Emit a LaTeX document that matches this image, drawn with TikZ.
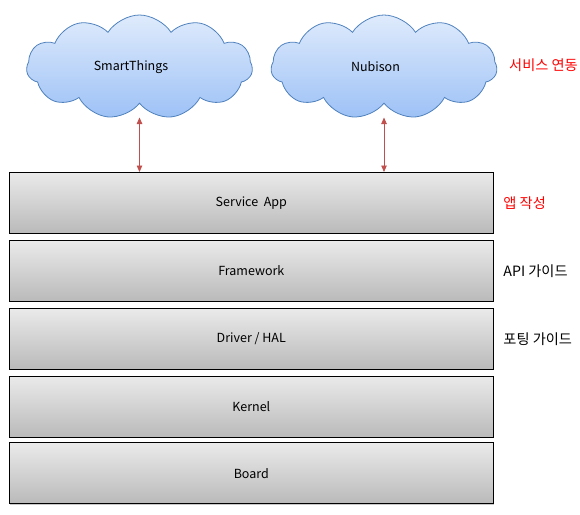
\documentclass[tikz,border=0pt]{standalone}
\usepackage{fontspec}
\setmainfont{Noto Sans CJK KR}
\usetikzlibrary{positioning,shapes.symbols,shadows,arrows.meta}

\definecolor{skytop}{HTML}{DFEBFC}
\definecolor{skybot}{HTML}{9DC1F6}
\definecolor{skyline}{HTML}{4F81BD}
\definecolor{layertop}{HTML}{EAEAEA}
\definecolor{layerbot}{HTML}{BABABA}
\definecolor{linkred}{HTML}{C0504D}

\begin{document}
\begin{tikzpicture}[x=1pt,y=-1pt,
    every node/.style={font=\fontsize{12.5}{15}\selectfont},
    sky/.style={cloud, cloud puffs=11, cloud puff arc=115, cloud ignores aspect,
      draw=skyline, line width=0.8pt, top color=skytop, bottom color=skybot,
      minimum width=226pt, minimum height=104pt, inner sep=0pt},
    layer/.style={draw=black, line width=0.9pt, top color=layertop, bottom color=layerbot,
      minimum width=484pt, minimum height=60.5pt, inner sep=0pt,
      drop shadow={shadow xshift=0.8pt, shadow yshift=-1.5pt, opacity=0.3, fill=black!70}},
    note/.style={anchor=west, inner sep=0pt, font=\fontsize{14.2}{17}\selectfont},
    link/.style={draw=linkred, line width=0.8pt,
      {Triangle[width=5.5pt,length=6.5pt]}-{Triangle[width=5.5pt,length=6.5pt]}}]
  \useasboundingbox (0,0) rectangle (580,514);

  % Services (clouds), text sits a little left of centre
  \node[sky] (st) at (139.5,67) {\hspace*{-17pt}SmartThings};
  \node[sky] (nb) at (384,67) {\hspace*{-17pt}Nubison};
  \path (st.center) ++(0,50.5) coordinate (st-foot);
  \path (nb.center) ++(0,50.5) coordinate (nb-foot);

  % Layers
  \node[layer] (app) at (251.3,202.7) {Service~ App};
  \node[layer,below=6.6pt of app] (fw) {Framework};
  \node[layer,below=6.6pt of fw] (drv) {Driver / HAL};
  \node[layer,below=6.6pt of drv] (krn) {Kernel};
  \node[layer,below=5pt of krn] (brd) {Board};

  % Links
  \draw[link] (st-foot) -- (st-foot |- app.north);
  \draw[link] (nb-foot) -- (nb-foot |- app.north);

  % Notes
  \node[note,text=red] (n-svc) at (509,65) {서비스 연동};
  \node[note,text=red,right=9.5pt of app] (n-app) {앱 작성};
  \node[note,right=9.5pt of fw] (n-fw) {API 가이드};
  \node[note,right=9.5pt of drv] (n-drv) {포팅 가이드};
\end{tikzpicture}
\end{document}
